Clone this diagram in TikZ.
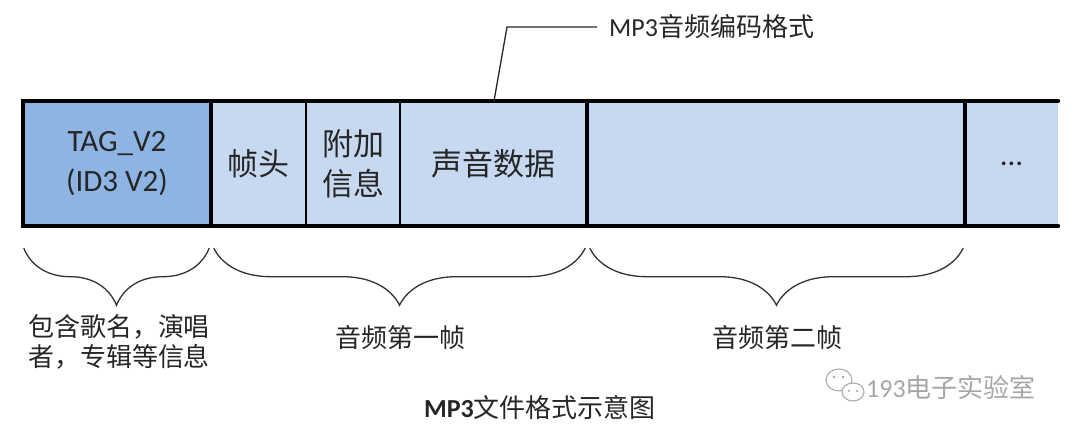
\documentclass[tikz,border=0pt]{standalone}
\usepackage{fontspec}
\setmainfont{Carlito}
\newfontfamily\cjk{Noto Sans CJK SC}
\usetikzlibrary{calc,decorations.pathreplacing}

\definecolor{tagblue}{HTML}{8EB4E3}
\definecolor{frameblue}{HTML}{C6D9F1}
\definecolor{wmgray}{HTML}{A6A6A6}

\begin{document}
\begin{tikzpicture}[
  x=1pt,
  y=-1pt,
  blk/.style={fill=frameblue, minimum height=125pt, inner sep=0pt, align=center, text=black!85, font=\fontsize{31}{40}\selectfont},
  lbl/.style={inner sep=0pt, align=left, text=black!85, font=\fontsize{26}{30}\selectfont\cjk},
  bold/.style={line width=4pt, line cap=round, line join=miter},
  thin/.style={line width=1.5pt},
  brc/.style={decorate, decoration={brace, amplitude=57pt}, line width=1.3pt, black!80},
  lead/.style={line width=1.3pt, black!85}
]
  \useasboundingbox (0,0) rectangle (1080,435);

  % blocks of the file
  \node[blk, fill=tagblue, minimum width=188pt] (tag) at (117,163.5) {TAG\_V2\\(ID3 V2)};
  \node[blk, minimum width=95pt] (fhead) at (258.5,163.5) {\cjk 帧头};
  \node[blk, minimum width=94pt] (fextra) at (353,163.5) {\cjk 附加\\\cjk 信息};
  \node[blk, minimum width=187pt] (fdata) at (493.5,163.5) {\cjk 声音数据};
  \node[blk, minimum width=378pt] (frame2) at (776,163.5) {};
  \node[blk, minimum width=93pt] (more) at (1011.5,163.5) {...};

  \draw[bold] (more.north east) -- (tag.north west) -- (tag.south west) -- (more.south east);
  \draw[bold] (tag.north east) -- (tag.south east);
  \draw[thin] (fhead.north east) -- (fhead.south east);
  \draw[thin] (fextra.north east) -- (fextra.south east);
  \draw[bold] (fdata.north east) -- (fdata.south east);
  \draw[bold] (frame2.north east) -- (frame2.south east);

  % leader to the title on top
  \node[lbl, anchor=west, inner xsep=12pt] (fmt) at (597,27) {\fontspec{Carlito}MP3\cjk 音频编码格式};
  \coordinate (ledge) at (494,101);
  \draw[lead] (ledge) -- ++(13,-74) -- (fmt.west);

  % braces
  \draw[brc] ($(tag.south east)+(-2,22)$) -- ($(tag.south west)+(1,22)$);
  \draw[brc] ($(fdata.south east)+(-2,22)$) -- ($(fhead.south west)+(3,22)$);
  \draw[brc] ($(frame2.south east)+(-2,22)$) -- ($(frame2.south west)+(3,22)$);

  \node[lbl] (taginfo) at (119,342) {包含歌名，演唱\\者，专辑等信息};
  \node[lbl] (frame1lbl) at (400,338) {音频第一帧};
  \node[lbl] (frame2lbl) at (777,338) {音频第二帧};

  \node[lbl] (caption) at (540,408) {{\fontspec{Carlito}\bfseries MP3}\cjk 文件格式示意图};

  % watermark
  \node[lbl, text=wmgray, anchor=west] (mark) at (866,387) {\fontspec{Carlito}193\cjk 电子实验室};
  \draw[wmgray, line width=1pt, fill=white] (839,380) ellipse (13 and 11);
  \draw[wmgray, line width=1pt, fill=white] (853,392) ellipse (11 and 9);
  \fill[wmgray] (834,377) circle (1.3) (843,377) circle (1.3) (849,391) circle (1.1) (857,391) circle (1.1);
\end{tikzpicture}
\end{document}
